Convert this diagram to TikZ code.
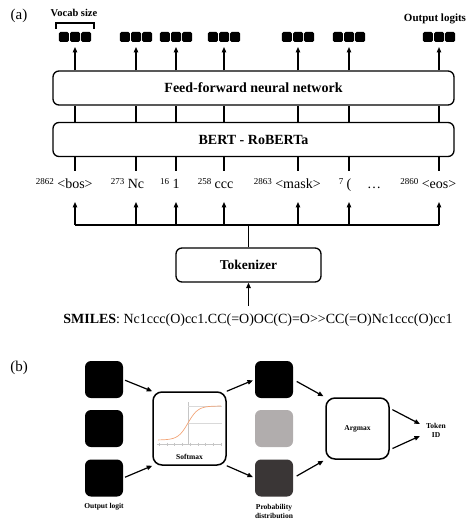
\documentclass[tikz,border=0pt]{standalone}
\usepackage{fontspec}
\setmainfont{Liberation Serif}
\usepackage{tikz}
\usetikzlibrary{arrows.meta}
\definecolor{probmid}{HTML}{B1ADAD}
\definecolor{problow}{HTML}{3A3636}
\definecolor{curveor}{HTML}{F2A477}
\pgfmathsetmacro{\sqSize}{10}
\pgfmathsetmacro{\sqGap}{11.2}
\tikzset{
	layer/.style= {
		draw, line width=1.3pt,
		rounded corners=6pt,
		minimum width=401pt, minimum height=34pt,
		font=\fontsize{14}{16}\selectfont\bfseries
	},
	logitsq/.style={fill=black, rounded corners=1.5pt, minimum size=\sqSize pt, inner sep=0},
	tok/.style={font=\fontsize{14}{16}\selectfont, inner sep=0},
	supnum/.style={font=\fontsize{9}{10}\selectfont, inner sep=0},
	smalllbl/.style={font=\fontsize{7.5}{9}\selectfont\bfseries, align=center},
	sqbox/.style={rounded corners=6pt, minimum width=38pt, minimum height=37pt, inner sep=0},
	opbox/.style={draw, line width=1.5pt, rounded corners=9pt, inner sep=0},
	arr/.style={-{Triangle[length=5.5pt,width=4.5pt]}, line width=1.2pt}
}

\begin{document}
\begin{tikzpicture}[x=1pt,y=-1pt]
\useasboundingbox (0,0) rectangle (474,526);

% (a) model
\node[font=\fontsize{15}{17}\selectfont] (lbla) at (19,16) {(a)};
\node[layer] (ffn) at (253.5,88) {Feed-forward neural network};
\node[layer] (bert) at (253.5,139.5) {BERT - RoBERTa};
\node[layer, minimum width=145pt, font=\fontsize{13.5}{15}\selectfont\bfseries] (tokzr) at (248.5,265) {Tokenizer};
\coordinate (bus) at (248.5,225);

\foreach \xc/\tokid/\toktxt [count=\i] in {75/2862/{<bos>}, 136/273/{Nc}, 176/16/{1}, 224/258/{ccc}, 298/2863/{<mask>}, 349/7/{(}, 439/2860/{<eos>}}{%
	\coordinate (col\i) at (\xc,0);
	% output logits
	\foreach \k [count=\j] in {-1,0,1}
		\node[logitsq] (sq\i\j) at (\xc+\k*\sqGap,37) {};
	\coordinate (top\i) at (\xc,47);
	\draw[arr] (ffn.north -| col\i) -- (top\i);
	\draw[line width=1.3pt] (bert.north -| col\i) -- (ffn.south -| col\i);
	% tokens
	\node[tok, anchor=base] (t\i) at (\xc,189) {\toktxt};
	\node[supnum, anchor=base east] (s\i) at ([xshift=-3pt,yshift=4pt]t\i.base west) {\tokid};
	\coordinate (low\i) at (\xc,171);
	\coordinate (tip\i) at (\xc,202);
	\draw[line width=1.3pt] (bert.south -| col\i) -- (low\i);
	\draw[arr] (bus -| col\i) -- (tip\i);
}
\node[tok, anchor=base] (dots) at (374,189) {…};

% bus and tokenizer
\draw[line width=1.3pt] (bus -| col1) -- (bus -| col7);
\draw[line width=1.3pt] (tokzr.north) -- (bus);
\node[tok, anchor=base] (smiles) at (258,323) {\textbf{SMILES}: Nc1ccc(O)cc1.CC(=O)OC(C)=O>{}>CC(=O)Nc1ccc(O)cc1};
\coordinate (smtop) at (248.5,306);
\draw[arr] (smtop) -- (tokzr.south);

% vocab bracket
\node[font=\fontsize{10.5}{12}\selectfont\bfseries] (vocab) at (74,13) {Vocab size};
\draw[line width=1.2pt] (56,29) -- (56,23) -- (94,23) -- (94,29);
\node[font=\fontsize{11}{13}\selectfont\bfseries] (outlg) at (435,19) {Output logits};

% (b) decoding
\node[font=\fontsize{15}{17}\selectfont] (lblb) at (19,368) {(b)};
\foreach \y [count=\j] in {379.5,428.5,478}
	\node[sqbox, fill=black] (lg\j) at (104,\y) {};
\foreach \y/\c [count=\j] in {379.5/black, 428.5/probmid, 478/problow}
	\node[sqbox, fill=\c] (pd\j) at (274,\y) {};
\node[smalllbl] (lglbl) at (104,507) {Output logit};
\node[smalllbl] (pdlbl) at (274,511) {Probability\\distribution};

\node[opbox, minimum width=73pt, minimum height=73pt] (soft) at (189.5,428.5) {};
\node[smalllbl] (softlbl) at (189.5,457) {Softmax};
% sigmoid sketch
\draw[gray!45, line width=0.4pt] (157,444) -- (222,444);
\draw[gray!45, line width=0.4pt] (188,444) -- (188,402);
\draw[gray!30, line width=0.3pt] (188,406) -- (222,406);
\draw[gray!30, line width=0.3pt] (188,423) -- (222,423);
\foreach \t in {0,...,8}
	\draw[gray!45, line width=0.3pt] (159+\t*7.75,442.5) -- (159+\t*7.75,445.5);
\draw[curveor, line width=0.7pt] plot[domain=158:221, samples=60] (\x,{440-34/(1+exp(-(\x-188)/5))});

\node[opbox, minimum width=63pt, minimum height=61pt, smalllbl] (argm) at (357.5,428.5) {Argmax};
\node[smalllbl, inner sep=6pt] (tokidn) at (436,430) {Token\\ID};

\draw[arr, shorten <=2pt] (lg1.east) -- (soft.north west);
\draw[arr, shorten <=2pt] (lg3.east) -- (soft.south west);
\draw[arr, shorten >=2pt] (soft.north east) -- (pd1.west);
\draw[arr, shorten >=2pt] (soft.south east) -- (pd3.west);
\draw[arr, shorten <=4pt, shorten >=2pt] (pd1.east) -- (argm.north west);
\draw[arr, shorten <=4pt, shorten >=2pt] (pd3.east) -- (argm.south west);
\draw[arr, shorten <=3pt] ([yshift=-11pt]argm.north east) -- ([yshift=6pt]tokidn.west);
\draw[arr, shorten <=3pt] ([yshift=10pt]argm.south east) -- ([yshift=-6pt]tokidn.west);
\end{tikzpicture}
\end{document}
